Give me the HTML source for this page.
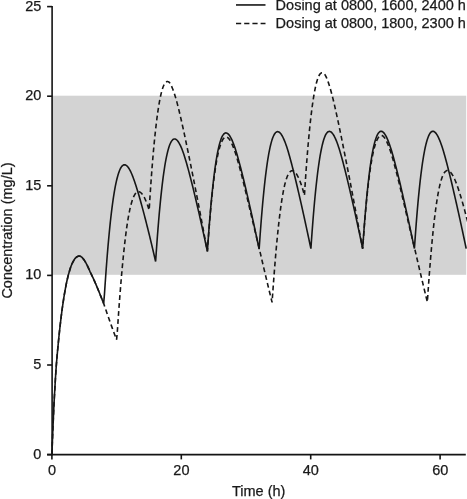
<!DOCTYPE html>
<html><head><meta charset="utf-8"><title>Concentration vs time</title>
<style>
html,body{margin:0;padding:0;background:#fff;}
svg{display:block;}
text{font-family:"Liberation Sans",Arial,Helvetica,sans-serif;font-size:14.5px;fill:#1a1a1a;stroke:#1a1a1a;stroke-width:0.25px;}
.ax line{stroke:#141414;stroke-width:1.6;}
.cv{fill:none;stroke:#161616;stroke-width:1.6;stroke-linejoin:miter;stroke-linecap:butt;}
</style></head><body>
<svg width="467" height="499" viewBox="0 0 467 499">
<rect x="0" y="0" width="467" height="499" fill="#ffffff"/>
<rect x="51.6" y="95.7" width="414.60" height="179.10" fill="#d3d3d3"/>
<g class="ax">
<line x1="52.1" y1="6" x2="52.1" y2="455.35"/>
<line x1="47.1" y1="454.6" x2="465.8" y2="454.6"/>
<line x1="47.1" y1="454.60" x2="52.1" y2="454.60"/><line x1="47.1" y1="365.00" x2="52.1" y2="365.00"/><line x1="47.1" y1="275.40" x2="52.1" y2="275.40"/><line x1="47.1" y1="185.80" x2="52.1" y2="185.80"/><line x1="47.1" y1="96.20" x2="52.1" y2="96.20"/><line x1="47.1" y1="6.60" x2="52.1" y2="6.60"/>
<line x1="51.90" y1="454.6" x2="51.90" y2="459.4"/><line x1="181.30" y1="454.6" x2="181.30" y2="459.4"/><line x1="310.70" y1="454.6" x2="310.70" y2="459.4"/><line x1="440.10" y1="454.6" x2="440.10" y2="459.4"/>
</g>
<g>
<text x="41.4" y="458.50" text-anchor="end">0</text><text x="41.4" y="368.90" text-anchor="end">5</text><text x="41.4" y="279.30" text-anchor="end">10</text><text x="41.4" y="189.70" text-anchor="end">15</text><text x="41.4" y="100.10" text-anchor="end">20</text><text x="41.4" y="10.50" text-anchor="end">25</text>
<text x="52.00" y="474.9" text-anchor="middle">0</text><text x="181.40" y="474.9" text-anchor="middle">20</text><text x="310.80" y="474.9" text-anchor="middle">40</text><text x="440.20" y="474.9" text-anchor="middle">60</text>
</g>
<text x="232.0" y="495.6">Time (h)</text>
<text transform="translate(11.7 298.6) rotate(-90)">Concentration (mg/L)</text>
<path class="cv" d="M51.90 454.60L51.99 452.30L52.07 450.02L52.16 447.76L52.24 445.52L52.33 443.30L52.41 441.09L52.50 438.91L52.59 436.75L52.67 434.60L52.76 432.48L52.84 430.37L52.93 428.28L53.01 426.21L53.10 424.16L53.19 422.12L53.27 420.11L53.36 418.11L53.44 416.13L53.53 414.16L53.61 412.22L53.70 410.29L53.79 408.38L53.87 406.49L53.97 404.61L54.07 402.75L54.16 400.91L54.26 399.08L54.36 397.27L54.46 395.48L54.94 387.05L55.41 378.99L55.89 371.29L56.42 363.94L57.02 356.92L57.62 350.23L58.22 343.86L58.82 337.79L59.42 332.02L60.03 326.53L60.63 321.32L61.23 316.38L61.83 311.69L62.43 307.25L63.02 303.06L63.62 299.10L64.21 295.36L64.81 291.84L65.40 288.53L66.00 285.42L66.59 282.51L67.19 279.79L67.78 277.25L68.38 274.89L68.97 272.69L69.56 270.66L70.15 268.79L70.74 267.07L71.33 265.49L71.92 264.06L72.51 262.76L73.11 261.60L73.70 260.56L74.27 259.64L74.83 258.84L75.39 258.15L75.95 257.57L76.50 257.09L77.06 256.71L77.62 256.43L78.18 256.24L78.74 256.14L79.29 256.12L79.85 256.19L80.35 256.33L80.82 256.55L81.28 256.84L81.75 257.20L82.21 257.62L82.67 258.11L83.14 258.66L83.60 259.26L84.07 259.92L84.53 260.63L84.99 261.35L85.46 262.11L85.92 262.91L86.39 263.76L86.86 264.66L87.32 265.59L87.79 266.56L88.25 267.56L88.72 268.60L89.19 269.67L89.65 270.77L90.12 271.90L90.68 273.01L91.25 274.14L91.81 275.30L92.38 276.49L92.94 277.69L93.50 278.92L94.07 280.16L94.63 281.43L95.20 282.71L95.76 284.00L96.33 285.31L96.89 286.64L97.45 288.00L98.02 289.37L98.58 290.76L99.15 292.15L99.71 293.55L100.28 294.96L100.84 296.37L101.40 297.79L101.97 299.21L102.53 300.64L103.10 302.07L103.66 303.51L104.46 294.14L105.05 285.23L105.64 276.75L106.22 268.69L106.81 261.04L107.38 253.78L107.96 246.90L108.54 240.39L109.11 234.23L109.68 228.42L110.24 222.93L110.81 217.77L111.37 212.90L111.93 208.33L112.49 204.05L113.05 200.05L113.60 196.32L114.16 192.84L114.71 189.62L115.26 186.63L115.81 183.88L116.36 181.35L116.91 179.04L117.46 176.93L118.00 174.98L118.55 173.23L119.09 171.66L119.64 170.27L120.18 169.05L120.72 168.00L121.26 167.11L121.80 166.38L122.35 165.79L122.89 165.34L123.43 165.03L123.97 164.85L124.51 164.79L125.05 164.86L125.59 165.04L126.13 165.33L126.67 165.73L127.20 166.23L127.74 166.82L128.28 167.51L128.82 168.29L129.36 169.15L129.90 170.09L130.44 171.12L130.98 172.26L131.52 173.47L132.06 174.75L132.60 176.09L133.14 177.49L133.67 178.95L134.21 180.46L134.75 182.02L135.29 183.63L135.83 185.29L136.37 186.98L136.91 188.72L137.45 190.45L137.98 192.21L138.52 194.01L139.06 195.84L139.59 197.70L140.13 199.58L140.67 201.50L141.20 203.43L141.74 205.39L142.27 207.37L142.80 209.37L143.34 211.39L143.87 213.39L144.40 215.42L144.93 217.45L145.46 219.50L145.98 221.56L146.51 223.62L147.03 225.70L147.56 227.78L148.08 229.87L148.60 231.96L149.11 234.05L149.63 236.15L150.14 238.28L150.65 240.41L151.16 242.54L151.67 244.66L152.17 246.79L152.67 248.91L153.17 251.03L153.67 253.14L154.16 255.25L154.65 257.36L155.14 259.46L155.62 261.55L156.22 252.72L156.81 244.34L157.40 236.38L157.98 228.84L158.57 221.70L159.14 214.95L159.72 208.57L160.30 202.56L160.87 196.89L161.44 191.56L162.00 186.55L162.57 181.86L163.13 177.47L163.69 173.36L164.25 169.54L164.81 165.99L165.36 162.70L165.92 159.67L166.47 156.88L167.02 154.33L167.57 152.00L168.12 149.89L168.67 148.00L169.22 146.30L169.76 144.81L170.31 143.49L170.85 142.36L171.40 141.41L171.94 140.62L172.48 139.99L173.02 139.51L173.56 139.18L174.11 139.00L174.65 138.95L175.19 139.03L175.73 139.23L176.27 139.56L176.81 140.00L177.35 140.55L177.89 141.21L178.43 141.96L178.96 142.82L179.50 143.76L180.04 144.80L180.58 145.91L181.12 147.11L181.66 148.39L182.20 149.73L182.74 151.20L183.28 152.73L183.82 154.32L184.36 155.97L184.90 157.67L185.43 159.43L185.97 161.23L186.51 163.09L187.05 164.98L187.59 166.92L188.13 168.89L188.67 170.91L189.21 172.90L189.74 174.93L190.28 176.99L190.82 179.08L191.35 181.19L191.89 183.33L192.43 185.49L192.96 187.67L193.50 189.87L194.03 192.09L194.56 194.32L195.10 196.57L195.63 198.80L196.16 201.04L196.69 203.30L197.22 205.56L197.74 207.83L198.27 210.11L198.79 212.39L199.32 214.68L199.84 216.97L200.36 219.26L200.87 221.55L201.39 223.84L201.90 226.16L202.41 228.47L202.92 230.78L203.43 233.09L203.93 235.40L204.43 237.69L204.93 239.98L205.43 242.27L205.92 244.55L206.41 246.82L206.90 249.08L207.38 251.33L207.98 242.66L208.57 234.43L209.16 226.63L209.74 219.25L210.33 212.26L210.90 205.65L211.48 199.42L212.06 193.55L212.63 188.02L213.20 182.83L213.76 177.96L214.33 173.40L214.89 169.14L215.45 165.17L216.01 161.47L216.57 158.05L217.12 154.89L217.68 151.98L218.23 149.31L218.78 146.87L219.33 144.67L219.88 142.67L220.43 140.89L220.98 139.31L221.52 137.92L222.07 136.72L222.61 135.69L223.16 134.84L223.70 134.15L224.24 133.63L224.78 133.25L225.32 133.02L225.87 132.93L226.41 132.98L226.95 133.15L227.49 133.45L228.03 133.87L228.57 134.40L229.11 135.04L229.65 135.78L230.19 136.62L230.72 137.56L231.26 138.59L231.80 139.71L232.34 140.91L232.88 142.18L233.42 143.54L233.96 144.96L234.50 146.50L235.04 148.10L235.58 149.77L236.12 151.49L236.66 153.27L237.19 155.09L237.73 156.97L238.27 158.89L238.81 160.85L239.35 162.85L239.89 164.89L240.43 166.97L240.97 169.03L241.50 171.12L242.04 173.24L242.58 175.38L243.11 177.56L243.65 179.75L244.19 181.97L244.72 184.21L245.26 186.46L245.79 188.73L246.32 191.02L246.86 193.32L247.39 195.60L247.92 197.90L248.45 200.20L248.98 202.52L249.50 204.83L250.03 207.16L250.55 209.49L251.08 211.82L251.60 214.15L252.12 216.49L252.63 218.83L253.15 221.16L253.66 223.52L254.17 225.88L254.68 228.23L255.19 230.58L255.69 232.92L256.19 235.26L256.69 237.59L257.19 239.91L257.68 242.23L258.17 244.54L258.66 246.83L259.14 249.12L259.74 240.49L260.33 232.30L260.92 224.53L261.50 217.18L262.09 210.22L262.66 203.65L263.24 197.45L263.82 191.61L264.39 186.11L264.96 180.95L265.52 176.11L266.09 171.59L266.65 167.35L267.21 163.41L267.77 159.74L268.33 156.34L268.88 153.21L269.44 150.33L269.99 147.69L270.54 145.28L271.09 143.09L271.64 141.13L272.19 139.37L272.74 137.81L273.28 136.45L273.83 135.27L274.37 134.27L274.92 133.44L275.46 132.77L276.00 132.27L276.54 131.91L277.08 131.71L277.63 131.64L278.17 131.70L278.71 131.90L279.25 132.22L279.79 132.65L280.33 133.21L280.87 133.86L281.41 134.63L281.95 135.49L282.48 136.44L283.02 137.49L283.56 138.63L284.10 139.84L284.64 141.14L285.18 142.51L285.72 143.95L286.26 145.50L286.80 147.12L287.34 148.80L287.88 150.54L288.42 152.33L288.95 154.17L289.49 156.06L290.03 158.00L290.57 159.97L291.11 161.99L291.65 164.04L292.19 166.13L292.73 168.21L293.26 170.31L293.80 172.44L294.34 174.60L294.87 176.79L295.41 179.00L295.95 181.23L296.48 183.47L297.02 185.74L297.55 188.02L298.08 190.32L298.62 192.63L299.15 194.93L299.68 197.23L300.21 199.55L300.74 201.87L301.26 204.20L301.79 206.54L302.31 208.88L302.84 211.22L303.36 213.56L303.88 215.91L304.39 218.25L304.91 220.60L305.42 222.97L305.93 225.33L306.44 227.69L306.95 230.05L307.45 232.40L307.95 234.75L308.45 237.09L308.95 239.42L309.44 241.74L309.93 244.06L310.42 246.36L310.90 248.66L311.50 240.03L312.09 231.85L312.68 224.09L313.26 216.74L313.85 209.79L314.42 203.23L315.00 197.03L315.58 191.20L316.15 185.71L316.72 180.56L317.28 175.73L317.85 171.21L318.41 166.98L318.97 163.04L319.53 159.38L320.09 155.99L320.64 152.86L321.20 149.98L321.75 147.35L322.30 144.94L322.85 142.76L323.40 140.80L323.95 139.05L324.50 137.50L325.04 136.14L325.59 134.96L326.13 133.97L326.68 133.14L327.22 132.49L327.76 131.98L328.30 131.63L328.84 131.43L329.39 131.37L329.93 131.44L330.47 131.64L331.01 131.96L331.55 132.40L332.09 132.96L332.63 133.62L333.17 134.39L333.71 135.25L334.24 136.21L334.78 137.26L335.32 138.40L335.86 139.62L336.40 140.92L336.94 142.29L337.48 143.73L338.02 145.30L338.56 146.92L339.10 148.60L339.64 150.34L340.18 152.14L340.71 153.98L341.25 155.87L341.79 157.81L342.33 159.79L342.87 161.81L343.41 163.87L343.95 165.96L344.49 168.03L345.02 170.14L345.56 172.28L346.10 174.44L346.63 176.63L347.17 178.84L347.71 181.07L348.24 183.32L348.78 185.59L349.31 187.88L349.84 190.18L350.38 192.49L350.91 194.79L351.44 197.10L351.97 199.41L352.50 201.74L353.02 204.07L353.55 206.41L354.07 208.75L354.60 211.09L355.12 213.44L355.64 215.79L356.15 218.13L356.67 220.48L357.18 222.85L357.69 225.22L358.20 227.58L358.71 229.94L359.21 232.30L359.71 234.64L360.21 236.98L360.71 239.32L361.20 241.64L361.69 243.96L362.18 246.26L362.66 248.56L363.26 239.94L363.85 231.75L364.44 224.00L365.02 216.65L365.61 209.70L366.18 203.14L366.76 196.95L367.34 191.12L367.91 185.63L368.48 180.48L369.04 175.65L369.61 171.13L370.17 166.90L370.73 162.96L371.29 159.30L371.85 155.91L372.40 152.79L372.96 149.91L373.51 147.27L374.06 144.87L374.61 142.70L375.16 140.74L375.71 138.98L376.26 137.43L376.80 136.07L377.35 134.90L377.89 133.91L378.44 133.08L378.98 132.43L379.52 131.92L380.06 131.58L380.60 131.37L381.15 131.31L381.69 131.38L382.23 131.58L382.77 131.91L383.31 132.35L383.85 132.90L384.39 133.57L384.93 134.34L385.47 135.20L386.00 136.16L386.54 137.21L387.08 138.35L387.62 139.57L388.16 140.87L388.70 142.25L389.24 143.69L389.78 145.25L390.32 146.88L390.86 148.56L391.40 150.30L391.94 152.10L392.47 153.94L393.01 155.83L393.55 157.77L394.09 159.75L394.63 161.77L395.17 163.83L395.71 165.92L396.25 168.00L396.78 170.11L397.32 172.24L397.86 174.41L398.39 176.60L398.93 178.81L399.47 181.04L400.00 183.29L400.54 185.56L401.07 187.85L401.60 190.15L402.14 192.46L402.67 194.76L403.20 197.07L403.73 199.39L404.26 201.71L404.78 204.04L405.31 206.38L405.83 208.72L406.36 211.07L406.88 213.41L407.40 215.76L407.91 218.11L408.43 220.45L408.94 222.83L409.45 225.19L409.96 227.56L410.47 229.92L410.97 232.27L411.47 234.62L411.97 236.96L412.47 239.30L412.96 241.62L413.45 243.94L413.94 246.24L414.42 248.54L415.02 239.92L415.61 231.74L416.20 223.98L416.78 216.63L417.37 209.69L417.94 203.12L418.52 196.93L419.10 191.10L419.67 185.61L420.24 180.46L420.80 175.63L421.37 171.11L421.93 166.88L422.49 162.94L423.05 159.29L423.61 155.90L424.16 152.77L424.72 149.89L425.27 147.26L425.82 144.86L426.37 142.68L426.92 140.72L427.47 138.97L428.02 137.42L428.56 136.06L429.11 134.89L429.65 133.89L430.20 133.07L430.74 132.41L431.28 131.91L431.82 131.56L432.36 131.36L432.91 131.30L433.45 131.37L433.99 131.57L434.53 131.90L435.07 132.34L435.61 132.89L436.15 133.56L436.69 134.33L437.23 135.19L437.76 136.15L438.30 137.21L438.84 138.34L439.38 139.56L439.92 140.86L440.46 142.24L441.00 143.68L441.54 145.24L442.08 146.87L442.62 148.55L443.16 150.29L443.70 152.09L444.23 153.93L444.77 155.83L445.31 157.76L445.85 159.74L446.39 161.76L446.93 163.82L447.47 165.91L448.01 167.99L448.54 170.10L449.08 172.24L449.62 174.40L450.15 176.59L450.69 178.80L451.23 181.03L451.76 183.28L452.30 185.55L452.83 187.84L453.36 190.14L453.90 192.45L454.43 194.75L454.96 197.06L455.49 199.38L456.02 201.71L456.54 204.04L457.07 206.38L457.59 208.72L458.12 211.06L458.64 213.41L459.16 215.76L459.67 218.10L460.19 220.45L460.70 222.82L461.21 225.19L461.72 227.55L462.23 229.91L462.73 232.27L463.23 234.62L463.73 236.96L464.23 239.29L464.72 241.62L465.21 243.93L465.70 246.24L466.18 248.54"/>
<path class="cv" stroke-dasharray="4.8 3.2" d="M51.90 454.60L51.99 452.30L52.07 450.02L52.16 447.76L52.24 445.52L52.33 443.30L52.41 441.09L52.50 438.91L52.59 436.75L52.67 434.60L52.76 432.48L52.84 430.37L52.93 428.28L53.01 426.21L53.10 424.16L53.19 422.12L53.27 420.11L53.36 418.11L53.44 416.13L53.53 414.16L53.61 412.22L53.70 410.29L53.79 408.38L53.87 406.49L53.97 404.61L54.07 402.75L54.16 400.91L54.26 399.08L54.36 397.27L54.46 395.48L54.94 387.05L55.41 378.99L55.89 371.29L56.42 363.94L57.02 356.92L57.62 350.23L58.22 343.86L58.82 337.79L59.42 332.02L60.03 326.53L60.63 321.32L61.23 316.38L61.83 311.69L62.43 307.25L63.02 303.06L63.62 299.10L64.21 295.36L64.81 291.84L65.40 288.53L66.00 285.42L66.59 282.51L67.19 279.79L67.78 277.25L68.38 274.89L68.97 272.69L69.56 270.66L70.15 268.79L70.74 267.07L71.33 265.49L71.92 264.06L72.51 262.76L73.11 261.60L73.70 260.56L74.27 259.64L74.83 258.84L75.39 258.15L75.95 257.57L76.50 257.09L77.06 256.71L77.62 256.43L78.18 256.24L78.74 256.14L79.29 256.12L79.85 256.19L80.35 256.33L80.82 256.55L81.28 256.84L81.75 257.20L82.21 257.62L82.67 258.11L83.14 258.66L83.60 259.26L84.07 259.92L84.53 260.63L84.99 261.35L85.46 262.11L85.92 262.91L86.39 263.76L86.86 264.66L87.32 265.59L87.79 266.56L88.25 267.56L88.72 268.60L89.19 269.67L89.65 270.77L90.12 271.90L90.68 273.01L91.25 274.14L91.81 275.30L92.38 276.49L92.94 277.69L93.50 278.92L94.07 280.16L94.63 281.43L95.20 282.71L95.76 284.00L96.33 285.31L96.89 286.64L97.45 288.00L98.02 289.37L98.58 290.76L99.15 292.15L99.71 293.55L100.28 294.96L100.84 296.37L101.40 297.79L101.97 299.21L102.53 300.64L103.10 302.07L103.66 303.51L104.20 305.08L104.74 306.65L105.28 308.21L105.82 309.78L106.36 311.34L106.89 312.90L107.43 314.45L107.97 316.00L108.51 317.54L109.05 319.08L109.59 320.61L110.13 322.14L110.67 323.64L111.21 325.14L111.75 326.64L112.29 328.12L112.83 329.60L113.36 331.07L113.90 332.53L114.44 333.98L114.98 335.42L115.52 336.86L116.06 338.28L116.60 339.69L117.43 330.12L118.05 320.99L118.66 312.28L119.26 303.99L119.86 296.10L120.45 288.60L121.03 281.47L121.61 274.71L122.18 268.29L122.75 262.21L123.32 256.46L123.88 251.02L124.44 245.89L124.99 241.05L125.54 236.50L126.09 232.22L126.64 228.21L127.19 224.45L127.73 220.95L128.27 217.68L128.82 214.64L129.36 211.82L129.90 209.21L130.44 206.82L130.98 204.67L131.52 202.71L132.06 200.93L132.60 199.33L133.14 197.90L133.67 196.64L134.21 195.53L134.75 194.57L135.29 193.76L135.83 193.09L136.37 192.55L136.91 192.15L137.45 191.86L137.98 191.70L138.52 191.65L139.06 191.71L139.59 191.88L140.13 192.14L140.66 192.51L141.19 192.96L141.72 193.51L142.25 194.13L142.77 194.84L143.29 195.63L143.81 196.51L144.32 197.46L144.83 198.48L145.33 199.56L145.83 200.70L146.33 201.90L146.82 203.16L147.30 204.46L147.77 205.82L148.24 207.22L148.70 208.66L149.15 210.15L149.74 200.69L150.33 191.73L150.91 183.23L151.49 175.19L152.07 167.60L152.65 160.43L153.22 153.67L153.79 147.30L154.36 141.33L154.93 135.72L155.50 130.47L156.06 125.57L156.63 120.84L157.19 116.44L157.75 112.35L158.31 108.57L158.86 105.08L159.42 101.87L159.97 98.93L160.52 96.25L161.07 93.82L161.63 91.64L162.17 89.69L162.72 87.97L163.27 86.49L163.82 85.22L164.36 84.15L164.91 83.28L165.45 82.58L166.00 82.07L166.54 81.72L167.08 81.54L167.63 81.52L168.17 81.65L168.71 81.92L169.25 82.34L169.79 83.06L170.33 83.91L170.87 84.87L171.41 85.95L171.95 87.14L172.49 88.43L173.03 89.81L173.57 91.29L174.11 92.86L174.65 94.51L175.19 96.25L175.73 98.06L176.27 99.93L176.81 101.87L177.35 103.88L177.89 105.95L178.43 108.08L178.96 110.26L179.50 112.49L180.04 114.78L180.58 117.11L181.12 119.48L181.66 121.89L182.20 124.34L182.74 126.74L183.28 129.17L183.82 131.63L184.36 134.12L184.89 136.64L185.43 139.18L185.97 141.75L186.51 144.34L187.05 146.95L187.59 149.57L188.12 152.21L188.66 154.87L189.20 157.49L189.74 160.13L190.27 162.77L190.81 165.42L191.34 168.08L191.88 170.75L192.41 173.42L192.95 176.09L193.48 178.76L194.01 181.44L194.54 184.12L195.07 186.79L195.60 189.54L196.13 192.28L196.66 195.02L197.19 197.76L197.71 200.48L198.24 203.20L198.76 205.90L199.28 208.60L199.80 211.29L200.32 213.96L200.84 216.63L201.35 219.28L201.87 222.05L202.38 224.81L202.89 227.55L203.40 230.28L203.90 232.99L204.41 235.67L204.91 238.35L205.41 241.00L205.91 243.63L206.40 246.24L206.89 248.84L207.38 251.41L207.96 243.04L208.55 235.10L209.13 227.57L209.71 220.45L210.28 213.71L210.86 207.35L211.43 201.36L212.00 195.71L212.57 190.40L213.13 185.42L213.70 180.75L214.26 176.38L214.83 172.27L215.39 168.44L215.95 164.88L216.50 161.59L217.06 158.55L217.62 155.76L218.17 153.20L218.73 150.87L219.28 148.76L219.83 146.87L220.38 145.17L220.93 143.67L221.48 142.25L222.03 141.01L222.57 139.96L223.12 139.07L223.67 138.34L224.21 137.77L224.76 137.36L225.30 137.09L225.84 136.96L226.39 136.96L226.93 137.09L227.47 137.35L228.01 137.77L228.56 138.31L229.10 138.95L229.64 139.69L230.18 140.54L230.72 141.47L231.26 142.50L231.80 143.61L232.34 144.80L232.88 146.07L233.42 147.41L233.96 148.82L234.50 150.35L235.04 151.93L235.58 153.58L236.12 155.28L236.66 157.04L237.19 158.84L237.73 160.69L238.27 162.59L238.81 164.53L239.35 166.50L239.89 168.52L240.43 170.57L240.97 172.62L241.51 174.71L242.05 176.82L242.59 178.96L243.13 181.12L243.66 183.30L244.20 185.51L244.74 187.73L245.28 189.97L245.82 192.23L246.36 194.50L246.90 196.78L247.44 199.03L247.98 201.29L248.51 203.56L249.05 205.83L249.59 208.11L250.13 210.40L250.67 212.69L251.20 214.99L251.74 217.29L252.28 219.59L252.82 221.88L253.35 224.18L253.89 226.39L254.42 228.61L254.96 230.82L255.49 233.03L256.03 235.24L256.56 237.44L257.09 239.64L257.63 241.84L258.16 244.03L258.69 246.22L259.22 248.40L259.75 250.57L260.28 252.87L260.81 255.16L261.33 257.44L261.86 259.71L262.38 261.97L262.91 264.21L263.43 266.44L263.95 268.65L264.47 270.86L264.99 273.04L265.51 275.22L266.02 277.38L266.54 279.55L267.05 281.71L267.56 283.85L268.07 285.98L268.58 288.09L269.09 290.18L269.59 292.26L270.09 294.31L270.59 296.35L271.09 298.37L271.59 300.38L272.08 302.36L272.71 293.35L273.33 284.78L273.94 276.62L274.54 268.87L275.14 261.51L275.73 254.54L276.31 247.92L276.89 241.67L277.46 235.75L278.03 230.17L278.60 224.90L279.16 219.95L279.72 215.29L280.27 210.92L280.82 206.83L281.37 203.00L281.92 199.44L282.47 196.12L283.01 193.05L283.55 190.20L284.10 187.58L284.64 185.18L285.18 182.99L285.72 180.99L286.26 179.24L286.80 177.67L287.34 176.28L287.88 175.06L288.42 174.00L288.95 173.10L289.49 172.36L290.03 171.76L290.57 171.30L291.11 170.98L291.65 170.78L292.19 170.71L292.73 170.76L293.26 170.92L293.80 171.19L294.34 171.57L294.87 172.05L295.41 172.62L295.94 173.29L296.47 174.04L297.00 174.88L297.53 175.80L298.05 176.79L298.57 177.86L299.09 179.01L299.60 180.24L300.11 181.52L300.61 182.87L301.11 184.27L301.61 185.72L302.10 187.23L302.58 188.78L303.05 190.38L303.52 192.02L303.98 193.71L304.43 195.43L305.02 186.20L305.61 177.46L306.19 169.19L306.77 161.37L307.35 153.99L307.93 147.04L308.50 140.49L309.07 134.33L309.64 128.56L310.21 123.15L310.78 118.10L311.34 113.40L311.91 108.86L312.47 104.65L313.03 100.75L313.59 97.15L314.14 93.83L314.70 90.80L315.25 88.04L315.80 85.53L316.35 83.28L316.91 81.26L317.45 79.48L318.00 77.92L318.55 76.60L319.10 75.48L319.64 74.57L320.19 73.84L320.73 73.30L321.28 72.93L321.82 72.73L322.36 72.69L322.91 72.81L323.45 73.08L323.99 73.49L324.53 74.03L325.07 74.89L325.61 75.87L326.15 76.96L326.69 78.16L327.23 79.47L327.77 80.88L328.31 82.39L328.85 83.99L329.39 85.67L329.93 87.44L330.47 89.29L331.01 91.21L331.55 93.19L332.09 95.24L332.63 97.35L333.17 99.52L333.71 101.75L334.25 104.04L334.78 106.37L335.32 108.75L335.86 111.18L336.40 113.65L336.94 116.15L337.48 118.70L338.02 121.18L338.56 123.70L339.10 126.25L339.64 128.83L340.17 131.43L340.71 134.06L341.25 136.71L341.79 139.37L342.33 142.06L342.87 144.77L343.40 147.48L343.94 150.21L344.48 152.91L345.02 155.62L345.55 158.33L346.09 161.06L346.62 163.79L347.16 166.52L347.69 169.26L348.23 172.00L348.76 174.74L349.29 177.48L349.82 180.22L350.35 182.95L350.88 185.77L351.41 188.57L351.94 191.37L352.47 194.16L352.99 196.94L353.52 199.72L354.04 202.48L354.56 205.23L355.08 207.97L355.60 210.70L356.12 213.42L356.63 216.12L357.15 218.95L357.66 221.75L358.17 224.55L358.68 227.32L359.18 230.07L359.69 232.81L360.19 235.53L360.69 238.22L361.19 240.90L361.68 243.56L362.17 246.19L362.66 248.81L363.24 240.48L363.83 232.58L364.41 225.10L364.99 218.01L365.56 211.32L366.14 205.00L366.71 199.04L367.28 193.43L367.85 188.15L368.41 183.20L368.98 178.57L369.54 174.24L370.11 170.16L370.67 166.36L371.23 162.84L371.78 159.58L372.34 156.58L372.90 153.81L373.45 151.29L374.01 148.99L374.56 146.91L375.11 145.05L375.66 143.38L376.21 141.91L376.76 140.52L377.31 139.31L377.85 138.28L378.40 137.42L378.95 136.72L379.49 136.18L380.04 135.79L380.58 135.54L381.12 135.44L381.67 135.47L382.21 135.62L382.75 135.90L383.29 136.35L383.84 136.91L384.38 137.57L384.92 138.34L385.46 139.20L386.00 140.16L386.54 141.20L387.08 142.34L387.62 143.55L388.16 144.84L388.70 146.20L389.24 147.63L389.78 149.18L390.32 150.78L390.86 152.45L391.40 154.17L391.94 155.94L392.47 157.76L393.01 159.63L393.55 161.54L394.09 163.50L394.63 165.49L395.17 167.52L395.71 169.59L396.25 171.66L396.79 173.76L397.33 175.89L397.87 178.04L398.41 180.22L398.94 182.41L399.48 184.63L400.02 186.87L400.56 189.13L401.10 191.40L401.64 193.68L402.18 195.98L402.72 198.24L403.26 200.51L403.79 202.79L404.33 205.08L404.87 207.37L405.41 209.67L405.95 211.98L406.48 214.28L407.02 216.59L407.56 218.90L408.10 221.21L408.63 223.52L409.17 225.74L409.70 227.97L410.24 230.19L410.77 232.41L411.31 234.63L411.84 236.84L412.37 239.05L412.91 241.26L413.44 243.46L413.97 245.66L414.50 247.85L415.03 250.03L415.56 252.34L416.09 254.64L416.61 256.93L417.14 259.20L417.66 261.47L418.19 263.72L418.71 265.95L419.23 268.18L419.75 270.39L420.27 272.58L420.79 274.76L421.30 276.93L421.82 279.11L422.33 281.28L422.84 283.43L423.35 285.56L423.86 287.68L424.37 289.78L424.87 291.86L425.37 293.92L425.87 295.97L426.37 297.99L426.87 300.00L427.36 301.99L427.97 292.97L428.57 284.38L429.17 276.21L429.77 268.45L430.36 261.09L430.94 254.10L431.52 247.48L432.10 241.22L432.68 235.31L433.25 229.72L433.82 224.46L434.38 219.50L434.95 214.85L435.51 210.48L436.06 206.39L436.62 202.57L437.18 199.01L437.73 195.70L438.28 192.64L438.83 189.80L439.38 187.19L439.92 184.80L440.47 182.61L441.02 180.63L441.56 178.89L442.10 177.33L442.65 175.95L443.19 174.75L443.73 173.70L444.27 172.82L444.81 172.09L445.36 171.50L445.90 171.05L446.44 170.74L446.98 170.56L447.52 170.51L448.06 170.57L448.60 170.75L449.14 171.03L449.68 171.42L450.22 171.92L450.76 172.50L451.30 173.18L451.84 173.95L452.38 174.80L452.92 175.74L453.46 176.74L454.00 177.83L454.54 179.00L455.08 180.24L455.62 181.53L456.16 182.89L456.70 184.31L457.24 185.78L457.77 187.29L458.31 188.86L458.84 190.47L459.38 192.13L459.91 193.82L460.44 195.55L460.97 197.27L461.50 199.02L462.03 200.81L462.55 202.63L463.07 204.47L463.59 206.34L464.11 208.24L464.63 210.16L465.14 212.09L465.65 214.05L466.15 216.02L466.66 217.99L467.16 219.83L467.65 221.70L468.14 223.58L468.63 225.47L469.11 227.38L469.59 229.30L470.06 231.23"/>
<line x1="236" y1="4.95" x2="265.5" y2="4.95" stroke="#161616" stroke-width="1.6"/>
<line x1="236" y1="23.5" x2="265.5" y2="23.5" stroke="#161616" stroke-width="1.6" stroke-dasharray="5.2 3"/>
<text x="275.6" y="10.2">Dosing at 0800, 1600, 2400 h</text>
<text x="275.6" y="27.9">Dosing at 0800, 1800, 2300 h</text>
</svg>
</body></html>
